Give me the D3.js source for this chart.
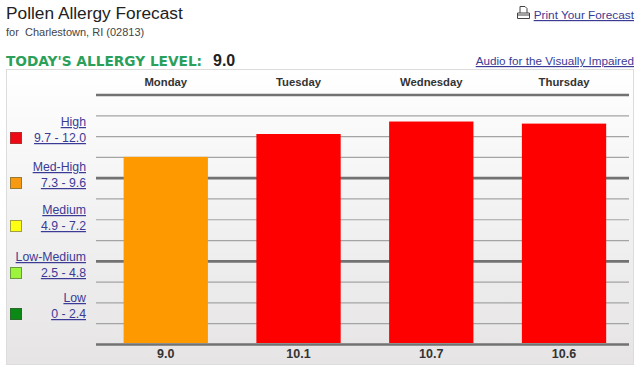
<!DOCTYPE html>
<html lang="en">

<head>
    <meta charset="UTF-8">
    <title>Pollen Allergy Forecast</title>
    <script src="https://d3js.org/d3.v7.min.js"></script>
    <style>
        html, body { margin: 0; padding: 0; background: #fff; }
        svg { display: block; }
        text { font-family: "Liberation Sans", Arial, sans-serif; }
        .link { fill: #3b3b96; text-decoration: underline; }
    </style>
</head>

<body>
    <div id="chart"></div>
    <script>
        const days = ["Monday", "Tuesday", "Wednesday", "Thursday"];
        const dayValues = [9.0, 10.1, 10.7, 10.6];
        const levelNames = ["High", "Med-High", "Medium", "Low-Medium", "Low"];
        const levelRanges = ["9.7 - 12.0", "7.3 - 9.6", "4.9 - 7.2", "2.5 - 4.8", "0 - 2.4"];
        const levelColors = ["#ee0a14", "#f79a12", "#ffff14", "#9cf53c", "#0a8a14"];
        const levelStroke = ["#b03030", "#9a7a30", "#a0a040", "#6a9a40", "#2a6a2a"];
        const yTicks = d3.range(0, 13);

        const width = 640, height = 368;

        const svg = d3.select("#chart").append("svg")
            .attr("width", width)
            .attr("height", height);

        // panel background
        const grad = svg.append("defs").append("linearGradient")
            .attr("id", "panel")
            .attr("x1", 0).attr("y1", 0).attr("x2", 0).attr("y2", 1);
        grad.append("stop").attr("offset", "0%").attr("stop-color", "#ffffff");
        grad.append("stop").attr("offset", "100%").attr("stop-color", "#e6e4e4");

        svg.append("rect")
            .attr("x", 6.5).attr("y", 69.5)
            .attr("width", 627).attr("height", 295)
            .attr("fill", "url(#panel)")
            .attr("stroke", "#dcdcdc");

        const x = d3.scaleBand()
            .domain(days)
            .range([99.4, 630.4])
            .paddingInner(0.365)
            .paddingOuter(0.1825);

        const y = d3.scaleLinear()
            .domain([0, 12])
            .range([344, 94.5]);

        // horizontal rules, every 4th one heavier
        const axis = svg.append("g")
            .attr("transform", "translate(96,0)")
            .call(d3.axisRight(y).tickValues(yTicks).tickSize(533).tickFormat(""));
        axis.select(".domain").remove();
        axis.selectAll(".tick line")
            .attr("stroke", d => d % 4 === 0 ? "#727272" : "#a4a4a4")
            .attr("stroke-width", d => d % 4 === 0 ? 2.6 : 1.2);

        function levelIndex(v) {
            return v >= 9.7 ? 0 : v >= 7.3 ? 1 : v >= 4.9 ? 2 : v >= 2.5 ? 3 : 4;
        }

        svg.selectAll(".bar")
            .data(dayValues)
            .enter()
            .append("rect")
            .attr("class", "bar")
            .attr("x", (d, i) => x(days[i]))
            .attr("y", d => y(d))
            .attr("width", x.bandwidth())
            .attr("height", d => y(0) - y(d) - 1)
            .attr("fill", d => levelIndex(d) === 0 ? "#ff0000" : "#ff9900");

        // day names and values
        svg.selectAll(".day")
            .data(days)
            .enter()
            .append("text")
            .attr("class", "day")
            .attr("x", d => x(d) + x.bandwidth() / 2)
            .attr("y", 86)
            .attr("text-anchor", "middle")
            .style("font-size", "11.3px")
            .style("font-weight", "bold")
            .attr("fill", "#333")
            .text(d => d);

        svg.selectAll(".value")
            .data(dayValues)
            .enter()
            .append("text")
            .attr("class", "value")
            .attr("x", (d, i) => x(days[i]) + x.bandwidth() / 2)
            .attr("y", 358)
            .attr("text-anchor", "middle")
            .style("font-size", "12.5px")
            .style("font-weight", "bold")
            .attr("fill", "#333")
            .text(d => d.toFixed(1));

        // legend, rows are not quite evenly spaced in the original
        const legendY = d3.scalePoint()
            .domain(levelNames)
            .range([138, 314]);
        const rowNudge = [0, 1, 0, 3, 0];

        const legend = svg.selectAll(".legend")
            .data(levelNames)
            .enter()
            .append("g")
            .attr("class", "legend")
            .attr("transform", (d, i) => "translate(0," + (legendY(d) + rowNudge[i]) + ")");

        legend.append("rect")
            .attr("x", 10.5).attr("y", -5.5)
            .attr("width", 11).attr("height", 11)
            .attr("fill", (d, i) => levelColors[i])
            .attr("stroke", (d, i) => levelStroke[i]);

        legend.append("text")
            .attr("class", "link")
            .attr("x", 86).attr("y", -12)
            .attr("text-anchor", "end")
            .style("font-size", "12.3px")
            .text(d => d);

        legend.append("text")
            .attr("class", "link")
            .attr("x", 86).attr("y", 4)
            .attr("text-anchor", "end")
            .style("font-size", "12.3px")
            .text((d, i) => levelRanges[i]);

        // header
        svg.append("text")
            .attr("x", 6).attr("y", 19)
            .style("font-size", "17.3px")
            .attr("fill", "#222")
            .text("Pollen Allergy Forecast");

        svg.append("text")
            .attr("x", 6).attr("y", 36)
            .style("font-size", "11px")
            .attr("fill", "#444")
            .attr("xml:space", "preserve")
            .text("for  Charlestown, RI (02813)");

        svg.append("text")
            .attr("x", 6).attr("y", 66)
            .style("font-family", "'DejaVu Sans', sans-serif")
            .style("font-size", "13.7px")
            .style("font-weight", "bold")
            .attr("fill", "#2ba05a")
            .text("TODAY'S ALLERGY LEVEL:");

        svg.append("text")
            .attr("x", 213).attr("y", 66)
            .style("font-size", "16px")
            .style("font-weight", "bold")
            .attr("fill", "#222")
            .text("9.0");

        svg.append("text")
            .attr("class", "link")
            .attr("x", 634).attr("y", 19)
            .attr("text-anchor", "end")
            .style("font-size", "11.8px")
            .text("Print Your Forecast");

        svg.append("text")
            .attr("class", "link")
            .attr("x", 634).attr("y", 65)
            .attr("text-anchor", "end")
            .style("font-size", "11.7px")
            .text("Audio for the Visually Impaired");

        // printer icon
        svg.append("path")
            .attr("d", "M520 13V6.5H525L527 8.5V13M517.5 13H529.5V18.5H517.5Z M517.5 15H529.5")
            .attr("fill", "none")
            .attr("stroke", "#444");
    </script>
</body>

</html>
